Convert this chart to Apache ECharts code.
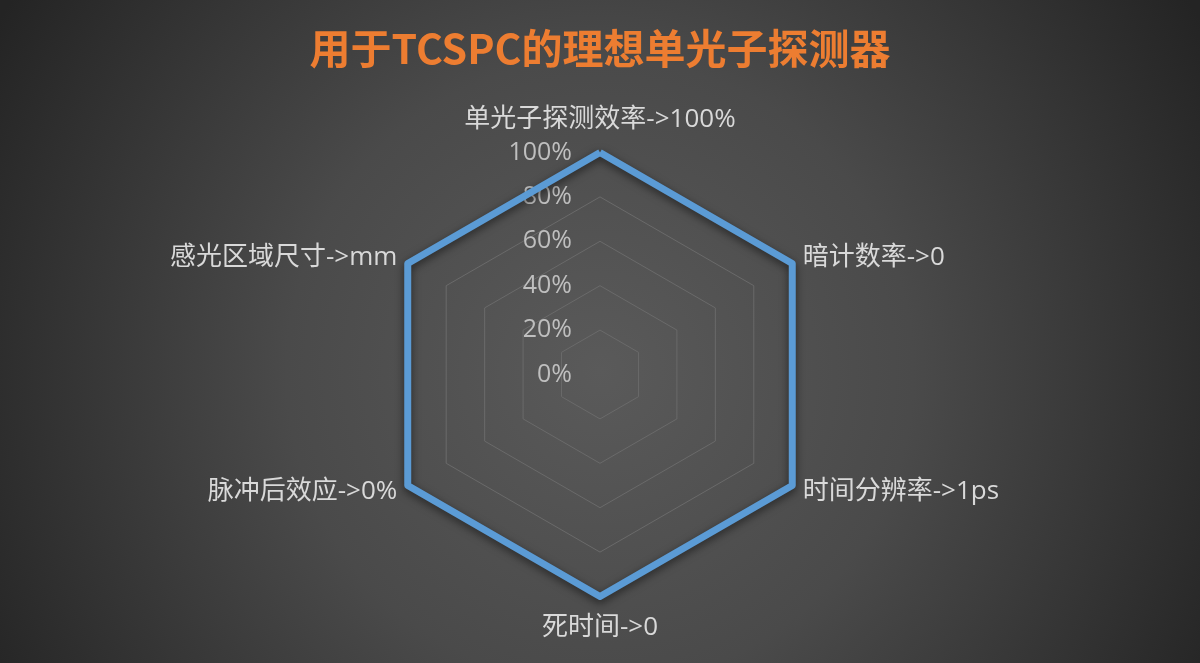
<!DOCTYPE html>
<html>
<head>
<meta charset="utf-8">
<script src="https://cdn.jsdelivr.net/npm/echarts@6/dist/echarts.min.js"></script>
<style>
html,body{margin:0;padding:0;background:#2a2a2a;}
#chart{width:1200px;height:663px;}
</style>
</head>
<body>
<div id="chart"></div>
<script>
// Indicators listed counter-clockwise from the top (ECharts radar order)
const indicatorNames = ['单光子探测效率->100%', '感光区域尺寸->mm', '脉冲后效应->0%', '死时间->0', '时间分辨率->1ps', '暗计数率->0'];
const seriesValues = [100, 100, 100, 100, 100, 100];
const axisMax = 100;
const titleText = '用于TCSPC的理想单光子探测器';

const FONT = '"Open Sans", "Noto Sans CJK SC", sans-serif';
const chart = echarts.init(document.getElementById('chart'));

const indicators = indicatorNames.map(function (n, i) {
  const o = { name: n, min: 0, max: axisMax };
  if (i === 0) {
    o.axisLabel = { show: true, formatter: '{value}%', color: '#bfbfbf', fontSize: 25, fontFamily: FONT, margin: 28 };
    o.nameGap = 20;
  } else if (i === 3) {
    o.nameGap = 18;
  } else {
    o.nameGap = 12;
  }
  return o;
});

chart.setOption({
  backgroundColor: {
    type: 'radial', x: 0.5, y: 0.56, r: 1.05,
    colorStops: [
      { offset: 0, color: '#5a5a5a' },
      { offset: 0.45, color: '#4a4a4a' },
      { offset: 1, color: '#242424' }
    ]
  },
  title: {
    text: titleText,
    left: 'center',
    top: 23,
    textStyle: { color: '#ED7D31', fontSize: 41, fontWeight: 'bold', fontFamily: '"Noto Sans CJK SC", sans-serif' }
  },
  radar: {
    center: [600, 374.5],
    radius: 222,
    startAngle: 90,
    shape: 'polygon',
    splitNumber: 5,
    axisName: { color: '#d9d9d9', fontSize: 26, fontFamily: FONT },
    axisLine: { show: false },
    axisTick: { show: false },
    axisLabel: { show: false },
    splitLine: { lineStyle: { color: '#6a6a6a', width: 1 } },
    splitArea: { show: false },
    indicator: indicators
  },
  series: [{
    type: 'radar',
    symbol: 'none',
    silent: true,
    lineStyle: {
      color: '#5B9BD5', width: 7,
      shadowColor: 'rgba(0,0,0,0.55)', shadowBlur: 8, shadowOffsetY: 3
    },
    data: [{ value: seriesValues }]
  }]
});
</script>
</body>
</html>
